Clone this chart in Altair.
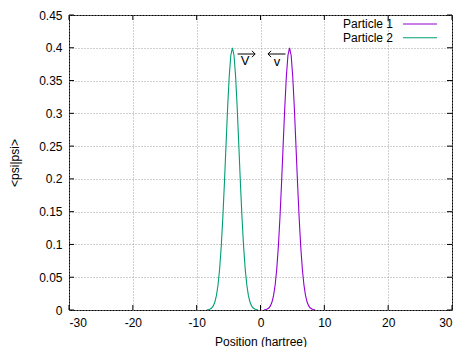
import altair as alt
import pandas as pd

# sample offsets from each packet centre and the density
dx = [-4.0, -3.75, -3.5, -3.25, -3.0, -2.75, -2.5, -2.25, -2.0, -1.75, -1.5, -1.25,
      -1.0, -0.75, -0.5, -0.25, 0.0, 0.25, 0.5, 0.75, 1.0, 1.25, 1.5, 1.75, 2.0,
      2.25, 2.5, 2.75, 3.0, 3.25, 3.5, 3.75, 4.0]
psi = [0.0002, 0.0006, 0.0014, 0.0030, 0.0062, 0.0121, 0.0222, 0.0385, 0.0629,
       0.0971, 0.1414, 0.1942, 0.2519, 0.3084, 0.3563, 0.3886, 0.4000, 0.3886,
       0.3563, 0.3084, 0.2519, 0.1942, 0.1414, 0.0971, 0.0629, 0.0385, 0.0222,
       0.0121, 0.0062, 0.0030, 0.0014, 0.0006, 0.0002]
series = ["Particle 1", "Particle 2"]
centres = [4.55, -4.4]
colors = ["#9400d3", "#009e73"]

x_ticks = [-30, -20, -10, 0, 10, 20, 30]
y_ticks = [0, 0.05, 0.1, 0.15, 0.2, 0.25, 0.3, 0.35, 0.4, 0.45]

# annotations: arrow start, arrow end, label position
arrows = [
    {"x": -3.59, "x2": -0.84, "y": 0.3905, "label": "V", "lx": -2.43, "ly": 0.380, "dir": "right"},
    {"x": 3.92, "x2": 1.17, "y": 0.3905, "label": "v", "lx": 2.6, "ly": 0.378, "dir": "left"},
]

W, H = 383, 295
FONT = "Liberation Sans"

rows = []
for s, c in zip(series, centres):
    for d, p in zip(dx, psi):
        rows.append({"series": s, "x": c + d, "y": p})
df = pd.DataFrame(rows)

xs = alt.Scale(domain=[-30, 30], nice=False, zero=False)
ys = alt.Scale(domain=[0, 0.45], nice=False)

base_axis_x = alt.Axis(values=x_ticks, labelExpr="'' + datum.value", grid=True,
                       gridColor="#a0a0a0", gridDash=[1, 2], gridWidth=1, domain=False,
                       ticks=False, labelFont=FONT, labelFontSize=12, labelColor="#000",
                       labelPadding=7, labelOverlap=False, title="Position (hartree)",
                       titleFont=FONT, titleFontSize=12, titleFontWeight="normal",
                       titleColor="#000", titlePadding=8)
base_axis_y = alt.Axis(values=y_ticks, labelExpr="'' + datum.value", grid=True,
                       gridColor="#a0a0a0", gridDash=[1, 2], gridWidth=1, domain=False,
                       ticks=False, labelFont=FONT, labelFontSize=12, labelColor="#000",
                       labelPadding=7, labelOverlap=False, title="<psi|psi>",
                       titleFont=FONT, titleFontSize=12, titleFontWeight="normal",
                       titleColor="#000", titlePadding=17)

XA = dict(scale=xs, axis=base_axis_x)
YA = dict(scale=ys, axis=base_axis_y)

lines = alt.Chart(df).mark_line(strokeWidth=1.1, clip=True).encode(
    x=alt.X("x:Q", **XA),
    y=alt.Y("y:Q", **YA),
    color=alt.Color("series:N", scale=alt.Scale(domain=series, range=colors), legend=None),
    detail="series:N",
)

xt = pd.DataFrame({"x": x_ticks})
yt = pd.DataFrame({"y": y_ticks})
tick_style = dict(color="#000", strokeWidth=1)
xtick_b = alt.Chart(xt).mark_rule(**tick_style).encode(
    x=alt.X("x:Q", **XA), y=alt.value(H), y2=alt.value(H - 5))
xtick_t = alt.Chart(xt).mark_rule(**tick_style).encode(
    x=alt.X("x:Q", **XA), y=alt.value(0), y2=alt.value(5))
ytick_l = alt.Chart(yt).mark_rule(**tick_style).encode(
    y=alt.Y("y:Q", **YA), x=alt.value(0), x2=alt.value(5))
ytick_r = alt.Chart(yt).mark_rule(**tick_style).encode(
    y=alt.Y("y:Q", **YA), x=alt.value(W), x2=alt.value(W - 5))

adf = pd.DataFrame(arrows)
arrow_lines = alt.Chart(adf).mark_rule(color="#000", strokeWidth=1).encode(
    x=alt.X("x:Q", **XA), x2="x2:Q", y=alt.Y("y:Q", **YA))
head_r = alt.Chart(adf[adf.dir == "right"]).mark_point(
    shape="M-1,-1L0,0L-1,1", filled=False, color="#000", size=40, strokeWidth=1,
    opacity=1).encode(x=alt.X("x2:Q", **XA), y=alt.Y("y:Q", **YA))
head_l = alt.Chart(adf[adf.dir == "left"]).mark_point(
    shape="M1,-1L0,0L1,1", filled=False, color="#000", size=40, strokeWidth=1,
    opacity=1).encode(x=alt.X("x2:Q", **XA), y=alt.Y("y:Q", **YA))
arrow_text = alt.Chart(adf).mark_text(font=FONT, fontSize=13, color="#000",
                                      baseline="middle", align="center").encode(
    x=alt.X("lx:Q", **XA), y=alt.Y("ly:Q", **YA), text="label:N")

# key (top right, gnuplot style)
key_y = [9, 22.7]
key_parts = []
for s, c, ky in zip(series, colors, key_y):
    key_parts.append(alt.Chart(pd.DataFrame({"t": [s]})).mark_text(
        font=FONT, fontSize=12, color="#000", align="right", baseline="middle").encode(
        x=alt.value(324), y=alt.value(ky), text="t:N"))
    key_parts.append(alt.Chart(pd.DataFrame({"t": [s]})).mark_rule(
        color=c, strokeWidth=1.1).encode(x=alt.value(334), x2=alt.value(368), y=alt.value(ky)))

chart = alt.layer(lines, xtick_b, xtick_t, ytick_l, ytick_r, arrow_lines, head_r, head_l,
                  arrow_text, *key_parts).properties(
    width=W, height=H,
    autosize=alt.AutoSizeParams(type="none"),
    padding={"left": 61, "top": 7, "right": 14, "bottom": 37},
    background="white",
).configure_view(stroke="#000", strokeWidth=1)

chart.save("out.html", embed_options={"renderer": "svg", "actions": False})
